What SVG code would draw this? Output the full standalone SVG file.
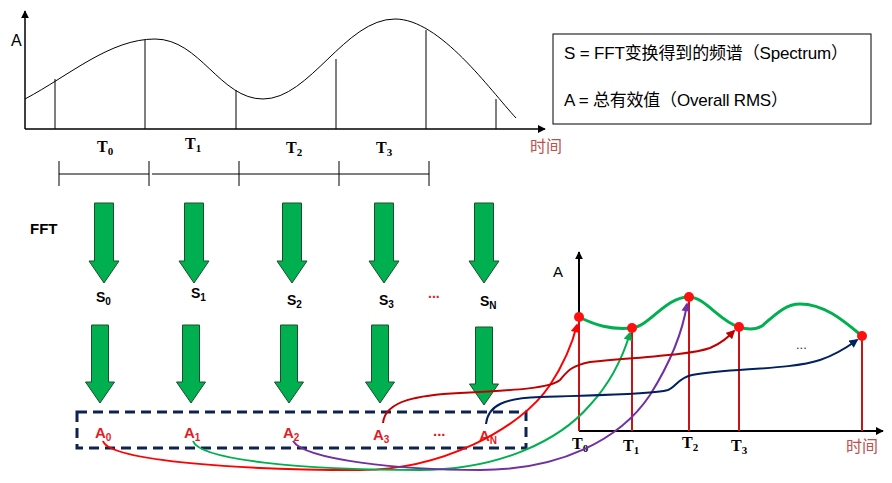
<svg xmlns="http://www.w3.org/2000/svg" width="892" height="483" viewBox="0 0 892 483">
<style>
.ax{stroke:#000;stroke-width:1.5;fill:none}
.thin{stroke:#000;stroke-width:1;fill:none}
.lbl{font-family:"Liberation Sans","Noto Sans CJK SC",sans-serif;fill:#000}
.tt{font-family:"Liberation Serif",serif;font-weight:bold;font-size:16px;fill:#000}
.sl{font-family:"Liberation Sans",sans-serif;font-weight:bold;font-size:14px;fill:#000}
.al{font-family:"Liberation Sans",sans-serif;font-weight:bold;font-size:15px;fill:#E31B23}
.time{font-family:"Noto Sans CJK SC",sans-serif;font-size:16px;fill:#C0504D}
.garrow{fill:#00B050;stroke:#1C4F2A;stroke-width:1}
.rv{stroke:#C81414;stroke-width:2;fill:none}
.dot{fill:#FF1010}
.con{fill:none;stroke-width:2}
</style>
<defs>
<marker id="ah" viewBox="0 0 10 10" refX="9" refY="5" markerWidth="8" markerHeight="8" markerUnits="userSpaceOnUse" orient="auto"><path d="M0,0 L10,5 L0,10 Z" fill="#000"/></marker>
<marker id="mRed" viewBox="0 0 10 10" refX="8" refY="5" markerWidth="10" markerHeight="9" markerUnits="userSpaceOnUse" orient="auto"><path d="M0,0 L10,5 L0,10 Z" fill="#FF0000"/></marker>
<marker id="mDark" viewBox="0 0 10 10" refX="8" refY="5" markerWidth="10" markerHeight="9" markerUnits="userSpaceOnUse" orient="auto"><path d="M0,0 L10,5 L0,10 Z" fill="#C00000"/></marker>
<marker id="mGreen" viewBox="0 0 10 10" refX="8" refY="5" markerWidth="10" markerHeight="9" markerUnits="userSpaceOnUse" orient="auto"><path d="M0,0 L10,5 L0,10 Z" fill="#00B050"/></marker>
<marker id="mPurple" viewBox="0 0 10 10" refX="8" refY="5" markerWidth="10" markerHeight="9" markerUnits="userSpaceOnUse" orient="auto"><path d="M0,0 L10,5 L0,10 Z" fill="#7030A0"/></marker>
<marker id="mNavy" viewBox="0 0 10 10" refX="8" refY="5" markerWidth="10" markerHeight="9" markerUnits="userSpaceOnUse" orient="auto"><path d="M0,0 L10,5 L0,10 Z" fill="#002060"/></marker>
<path id="bigArrow" d="M-9.5,0 H9.5 V58 H15 L0,80 L-15,58 H-9.5 Z"/>
<path id="bigArrow2" d="M-8.5,0 H8.5 V57 H14.5 L0,78 L-14.5,57 H-8.5 Z"/>
</defs>
<rect width="892" height="483" fill="#fff"/>

<g id="top-chart">
<line class="ax" x1="25" y1="129" x2="25" y2="11" marker-end="url(#ah)"/>
<line class="ax" x1="25" y1="129" x2="545" y2="129" marker-end="url(#ah)"/>
<text class="lbl" x="11" y="46" font-size="16">A</text>
<path class="thin" d="M25,99 C70,75 110,39 155,39 C200,39 220,99 263,99 C310,99 345,19 395,19 C440,19 490,90 516,118"/>
<path class="thin" d="M55,79 V129 M145,40 V129 M236,90 V129 M336,59 V129 M426,30 V129 M496,99 V129"/>
<text class="tt" x="97" y="152">T<tspan font-size="11" dy="3">0</tspan></text>
<text class="tt" x="185" y="149">T<tspan font-size="11" dy="3">1</tspan></text>
<text class="tt" x="286" y="153">T<tspan font-size="11" dy="3">2</tspan></text>
<text class="tt" x="376" y="153">T<tspan font-size="11" dy="3">3</tspan></text>
<text class="time" x="530" y="152">时间</text>
<path class="thin" d="M59,174 H149 M152,174 H429 M59,161 V186 M149,161 V186 M239,161 V186 M339,161 V186 M429,161 V186"/>
</g>

<g id="legend">
<rect x="553" y="34" width="318" height="90" fill="#fff" stroke="#000" stroke-width="1"/>
<text class="lbl" x="564" y="59" font-size="17" textLength="284" lengthAdjust="spacing">S = FFT变换得到的频谱（Spectrum）</text>
<text class="lbl" x="564" y="106" font-size="17" textLength="224" lengthAdjust="spacing">A = 总有效值（Overall RMS）</text>
</g>

<g id="fft-label"><text class="lbl" x="30" y="234" font-size="15" font-weight="bold">FFT</text></g>

<g id="fft-arrows">
<use href="#bigArrow" class="garrow" x="104" y="203"/>
<use href="#bigArrow" class="garrow" x="194" y="203"/>
<use href="#bigArrow" class="garrow" x="292" y="203"/>
<use href="#bigArrow" class="garrow" x="384" y="203"/>
<use href="#bigArrow" class="garrow" x="484" y="203"/>
</g>

<g id="spectra">
<text class="sl" x="96" y="302">S<tspan font-size="10" dy="3">0</tspan></text>
<text class="sl" x="191" y="298">S<tspan font-size="10" dy="3">1</tspan></text>
<text class="sl" x="287" y="305">S<tspan font-size="10" dy="3">2</tspan></text>
<text class="sl" x="379" y="305">S<tspan font-size="10" dy="3">3</tspan></text>
<text x="428" y="298" font-family="Liberation Sans,sans-serif" font-size="14" font-weight="bold" fill="#E31B23">...</text>
<text class="sl" x="480" y="306">S<tspan font-size="10" dy="3">N</tspan></text>
</g>

<g id="rms-arrows">
<use href="#bigArrow2" class="garrow" x="100" y="325"/>
<use href="#bigArrow2" class="garrow" x="191" y="325"/>
<use href="#bigArrow2" class="garrow" x="289" y="325"/>
<use href="#bigArrow2" class="garrow" x="380" y="325"/>
<use href="#bigArrow2" class="garrow" x="484" y="327"/>
</g>

<g id="rms-box">
<rect x="77" y="412" width="449" height="36" fill="none" stroke="#0F2350" stroke-width="3" stroke-dasharray="10,6"/>
<text class="al" x="95" y="438">A<tspan font-size="10" dy="3">0</tspan></text>
<text class="al" x="184" y="438">A<tspan font-size="10" dy="3">1</tspan></text>
<text class="al" x="283" y="438">A<tspan font-size="10" dy="3">2</tspan></text>
<text class="al" x="373" y="440">A<tspan font-size="10" dy="3">3</tspan></text>
<text class="al" x="433" y="436">...</text>
<text class="al" x="479" y="441">A<tspan font-size="10" dy="3">N</tspan></text>
</g>

<g id="trend-chart">
<line x1="579" y1="431" x2="579" y2="252" stroke="#000" stroke-width="2" marker-end="url(#ah)"/>
<line x1="579" y1="431" x2="883" y2="431" stroke="#000" stroke-width="2" marker-end="url(#ah)"/>
<text class="lbl" x="553" y="277" font-size="15">A</text>
<path class="rv" d="M579,317 V431 M632,328 V431 M689,297 V431 M739,327 V431 M862,336 V431"/>
<path d="M579,317 C595,325 610,330 632,328 C650,326 665,297 689,297 C705,297 720,322 739,327 C748,330 755,330 762,326 C775,315 785,304 800,304 C825,304 845,322 862,336" fill="none" stroke="#00B050" stroke-width="3"/>
<circle class="dot" cx="579" cy="317" r="5"/>
<circle class="dot" cx="632" cy="328" r="5"/>
<circle class="dot" cx="689" cy="297" r="5"/>
<circle class="dot" cx="739" cy="327" r="5"/>
<circle class="dot" cx="862" cy="336" r="5"/>
<text x="796" y="349" font-family="Liberation Sans,sans-serif" font-size="13" fill="#333">...</text>
<text class="tt" x="572" y="449">T<tspan font-size="11" dy="3">0</tspan></text>
<text class="tt" x="623" y="451">T<tspan font-size="11" dy="3">1</tspan></text>
<text class="tt" x="682" y="448">T<tspan font-size="11" dy="3">2</tspan></text>
<text class="tt" x="731" y="451">T<tspan font-size="11" dy="3">3</tspan></text>
<text class="time" x="846" y="452">时间</text>
</g>

<g id="connectors">
<path class="con" stroke="#FF0000" d="M103,441 C110,462 250,470 360,470 C440,470 520,430 550,385 C565,362 572,345 577,325" marker-end="url(#mRed)"/>
<path class="con" stroke="#00B050" d="M193,441 C200,460 300,470 420,470 C500,470 560,440 590,405 C615,378 625,350 630,333" marker-end="url(#mGreen)"/>
<path class="con" stroke="#7030A0" d="M293,441 C305,460 400,470 480,470 C560,470 620,440 650,395 C672,360 683,330 687,304" marker-end="url(#mPurple)"/>
<path class="con" stroke="#C00000" d="M383,423 C385,400 420,395 460,393 C520,390 550,388 560,380 C567,372 570,366 590,362 C640,357 690,355 710,348 C722,343 728,337 734,331" marker-end="url(#mDark)"/>
<path class="con" stroke="#002060" d="M486,424 C488,405 505,398 540,397 C590,395 650,395 668,390 C676,387 678,378 692,375 C730,368 790,370 820,360 C840,353 850,345 857,340" marker-end="url(#mNavy)"/>
</g>
</svg>
